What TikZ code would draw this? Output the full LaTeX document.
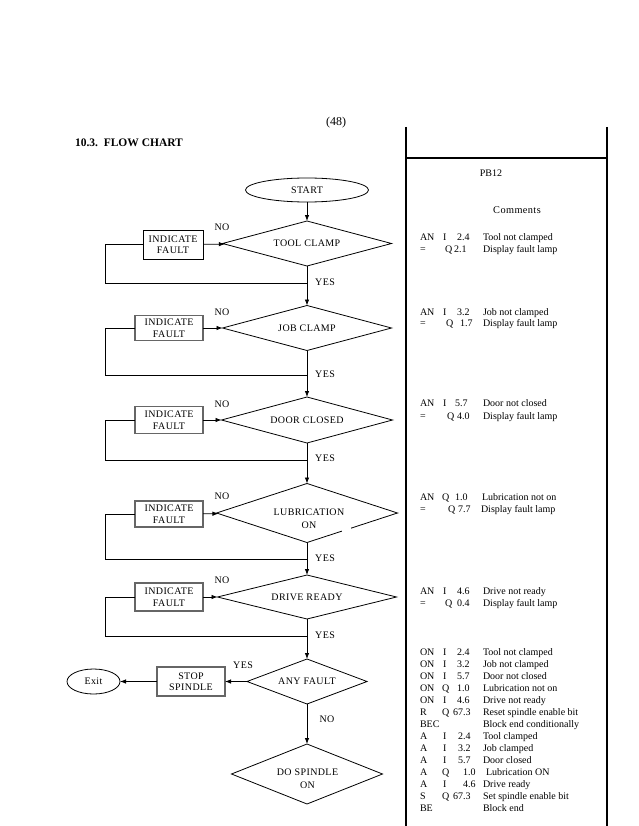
\documentclass[tikz,border=0pt]{standalone}
\usepackage{fontspec}
\setmainfont{Liberation Serif}
\newfontfamily\fcfont[LetterSpace=4]{Liberation Serif}
\usetikzlibrary{shapes.geometric,arrows.meta}
\begin{document}
\begin{tikzpicture}[x=1pt,y=-1pt,
  every node/.style={inner sep=0pt,outer sep=0pt},
  fc/.style={font=\fcfont\fontsize{10}{12}\selectfont,align=center},
  dia/.style={diamond,draw=black,fc,line width=0.8pt},
  oval/.style={ellipse,draw=black,fc,line width=0.8pt},
  fbox/.style={rectangle,draw=black!60,fc,line width=1.2pt,minimum width=68pt,minimum height=28pt,font=\fcfont\fontsize{10}{11.5}\selectfont},
  lbl/.style={fc},
  twoline/.style={fc,font=\fcfont\fontsize{10}{13}\selectfont},
  code/.style={font=\fontsize{10}{12}\selectfont,anchor=base west},
  ln/.style={line width=0.8pt,draw=black},
  arr/.style={ln,-{Latex[length=6pt,width=4.5pt]}},
  frame/.style={line width=1.1pt,draw=black}
]
\useasboundingbox[fill=white] (0,0) rectangle (638,826);

% headings
\node[font=\fontsize{12}{14}\selectfont] (pg) at (336,123) {(48)};
\node[font=\bfseries\fontsize{11.5}{14}\selectfont,anchor=west] (title) at (75,143) {10.3.\ \ FLOW CHART};

% right column frame
\draw[frame] (406,127) -- (406,826);
\draw[frame] (607,127) -- (607,826);
\draw[frame] (406,158) -- (607,158);
\node[font=\fontsize{10}{12}\selectfont] (pb) at (491,173) {PB12};
\node[fc,font=\fcfont\fontsize{10.3}{12}\selectfont] (cmt) at (517,210) {Comments};

% flow chart nodes
\node[oval,minimum width=123pt,minimum height=24pt] (start) at (307,190) {START};
\node[dia,shape aspect=3.75,minimum width=169pt,minimum height=45pt] (d1) at (307,243.5) {TOOL CLAMP};
\node[fbox,draw=black,line width=0.8pt,minimum width=60pt,minimum height=29pt] (b1) at (173,244.5) {INDICATE\\FAULT};
\node[dia,shape aspect=3.75,minimum width=169pt,minimum height=45pt] (d2) at (307,328) {JOB CLAMP};
\node[fbox,minimum height=25pt] (b2) at (169,328) {INDICATE\\FAULT};
\node[dia,shape aspect=3.7,minimum width=171pt,minimum height=46pt] (d3) at (307,420) {DOOR CLOSED};
\node[fbox,minimum height=27pt] (b3) at (169,420) {INDICATE\\FAULT};
\node[dia,shape aspect=3.07,minimum width=181pt,minimum height=59pt] (d4) at (307,513) {};
\node[twoline] (d4t) at (309,519) {LUBRICATION\\ON};
\node[fbox,minimum height=26pt] (b4) at (169,514) {INDICATE\\FAULT};
\node[dia,shape aspect=4.07,minimum width=179pt,minimum height=44pt] (d5) at (307,597) {DRIVE READY};
\node[fbox,minimum height=28pt] (b5) at (169,597) {INDICATE\\FAULT};
\node[dia,shape aspect=2.67,minimum width=120pt,minimum height=45pt] (d6) at (307,681.5) {ANY FAULT};
\node[fbox,minimum height=29pt] (stop) at (191,681.5) {STOP\\SPINDLE};
\node[oval,minimum width=53pt,minimum height=25pt] (exit) at (93.5,681.5) {Exit};
\node[dia,shape aspect=2.52,minimum width=151pt,minimum height=60pt] (d7) at (307,774) {};
\node[twoline] (d7t) at (307.5,779) {DO SPINDLE\\ON};

% scan artefact: small gap in the LUBRICATION diamond edge
\fill[white] (342,526) rectangle (351,534);

% join coordinates
\coordinate (j1) at (307,283); \coordinate (l1) at (105,283);
\coordinate (j2) at (307,375); \coordinate (l2) at (105,375);
\coordinate (j3) at (307,460); \coordinate (l3) at (105,460);
\coordinate (j4) at (307,559); \coordinate (l4) at (105,559);
\coordinate (j5) at (307,636); \coordinate (l5) at (105,636);

% connectors
\draw[arr] (start) -- (d1);
\draw[arr] (b1) -- (d1);
\draw[arr] (d1) -- (d2);
\draw[ln] (j1) -- (l1) |- (b1.west);
\draw[arr] (b2) -- (d2);
\draw[arr] (d2) -- (d3);
\draw[ln] (j2) -- (l2) |- (b2.west);
\draw[arr] (b3) -- (d3);
\draw[arr] (d3) -- (d4);
\draw[ln] (j3) -- (l3) |- (b3.west);
\draw[arr] (b4) -- (d4);
\draw[arr] (d4) -- (d5);
\draw[ln] (j4) -- (l4) |- (b4.west);
\draw[arr] (b5) -- (d5);
\draw[arr] (d5) -- (d6);
\draw[ln] (j5) -- (l5) |- (b5.west);
\draw[arr] (d6) -- (stop);
\draw[arr] (stop) -- (exit);
\draw[arr] (d6) -- (d7);

% labels
\node[lbl] (no1) at (222,227) {NO};
\node[lbl] (no2) at (222,312) {NO};
\node[lbl] (no3) at (222,404) {NO};
\node[lbl] (no4) at (222,496) {NO};
\node[lbl] (no5) at (222,580) {NO};
\node[lbl] (y1) at (325,282) {YES};
\node[lbl] (y2) at (325,374) {YES};
\node[lbl] (y3) at (325,458) {YES};
\node[lbl] (y4) at (325,558) {YES};
\node[lbl] (y5) at (325,635) {YES};
\node[lbl] (y6) at (243,665) {YES};
\node[lbl] (no6) at (327,719) {NO};

% code listing
\foreach \yy/\op/\rg/\rx/\nm/\nx/\cm/\cx [count=\i] in {
237/AN/I/443/2.4/457/Tool not clamped/483,
249/=/Q/445/2.1/454/Display fault lamp/483,
312/AN/I/443/3.2/457/Job not clamped/483,
323/=/Q/446/1.7/460/Display fault lamp/483,
403/AN/I/443/5.7/455/Door not closed/483,
416/=/Q/447/4.0/457/Display fault lamp/483,
497/AN/Q/442/1.0/455/Lubrication not on/482,
509/=/Q/448/7.7/458/Display fault lamp/481,
591/AN/I/443/4.6/457/Drive not ready/483,
603/=/Q/445/0.4/457/Display fault lamp/483,
652/ON/I/443/2.4/457/Tool not clamped/483,
664/ON/I/443/3.2/457/Job not clamped/483,
676/ON/I/443/5.7/457/Door not closed/483,
688/ON/Q/442/1.0/457/Lubrication not on/483,
700/ON/I/443/4.6/457/Drive not ready/483,
712/R/Q/442/67.3/453/Reset spindle enable bit/483,
724/BEC/{}/443/{}/457/Block end conditionally/483,
736/A/I/443/2.4/458/Tool clamped/483,
748/A/I/443/3.2/458/Job clamped/483,
760/A/I/443/5.7/458/Door closed/483,
772/A/Q/442/1.0/463/Lubrication ON/486,
784/A/I/443/4.6/463/Drive ready/483,
796/S/Q/442/67.3/453/Set spindle enable bit/483,
808/BE/{}/443/{}/457/Block end/483}{
  \node[code] (op\i) at (420,\yy+3.5) {\op};
  \node[code] (rg\i) at (\rx,\yy+3.5) {\rg};
  \node[code] (nm\i) at (\nx,\yy+3.5) {\nm};
  \node[code] (cm\i) at (\cx,\yy+3.5) {\cm};
}
\end{tikzpicture}
\end{document}
